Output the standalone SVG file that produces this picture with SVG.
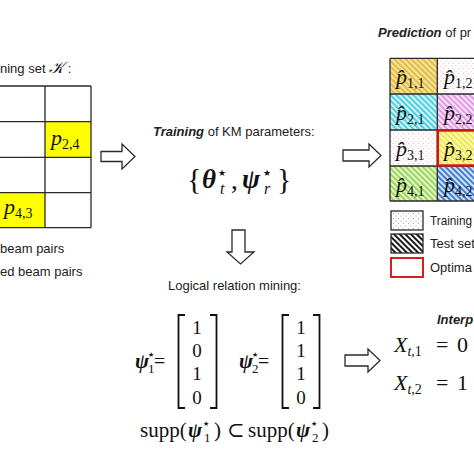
<svg xmlns="http://www.w3.org/2000/svg" width="474" height="474" viewBox="0 0 474 474">
<style>
.sans{font-family:"Liberation Sans","DejaVu Sans",sans-serif;font-size:13px;fill:#222}
.bi{font-weight:bold;font-style:italic}
.m{font-family:"Liberation Serif","DejaVu Serif",serif;fill:#111}
.it{font-style:italic}
.grid{stroke:#2a2a2a;stroke-width:1.3;fill:none}
.arrow{fill:#fff;stroke:#2a2a2a;stroke-width:1.3;stroke-linejoin:miter}
.br{fill:none;stroke:#111;stroke-width:1.8}
.star{font-family:"DejaVu Sans",sans-serif;fill:#111}
</style>
<defs>
<pattern id="hy" width="4" height="4" patternUnits="userSpaceOnUse" patternTransform="rotate(-45)"><rect width="4" height="4" fill="#f7e49a"/><rect width="2" height="4" fill="#e2bd45"/></pattern>
<pattern id="hc" width="4" height="4" patternUnits="userSpaceOnUse" patternTransform="rotate(-45)"><rect width="4" height="4" fill="#d2f3f8"/><rect width="2" height="4" fill="#4fd0e2"/></pattern>
<pattern id="hp" width="4" height="4" patternUnits="userSpaceOnUse" patternTransform="rotate(-45)"><rect width="4" height="4" fill="#f8e2f8"/><rect width="2" height="4" fill="#e29ae6"/></pattern>
<pattern id="hl" width="4" height="4" patternUnits="userSpaceOnUse" patternTransform="rotate(-45)"><rect width="4" height="4" fill="#fbfbb8"/><rect width="2" height="4" fill="#eee84a"/></pattern>
<pattern id="hg" width="4" height="4" patternUnits="userSpaceOnUse" patternTransform="rotate(-45)"><rect width="4" height="4" fill="#e4f6cc"/><rect width="2" height="4" fill="#9cd65a"/></pattern>
<pattern id="hb" width="4" height="4" patternUnits="userSpaceOnUse" patternTransform="rotate(-45)"><rect width="4" height="4" fill="#d4e3f8"/><rect width="2" height="4" fill="#3f7dd6"/></pattern>
<pattern id="hk" width="4" height="4" patternUnits="userSpaceOnUse" patternTransform="rotate(-45)"><rect width="4" height="4" fill="#fff"/><rect width="2" height="4" fill="#1a1a1a"/></pattern>
<pattern id="dp" width="5" height="5" patternUnits="userSpaceOnUse"><rect width="5" height="5" fill="#fff"/><circle cx="1" cy="1" r="0.55" fill="#e2a6c4"/><circle cx="3.5" cy="3.5" r="0.55" fill="#e2a6c4"/></pattern>
<pattern id="dg" width="5" height="5" patternUnits="userSpaceOnUse"><rect width="5" height="5" fill="#fff"/><circle cx="1" cy="1" r="0.55" fill="#999"/><circle cx="3.5" cy="3.5" r="0.55" fill="#999"/></pattern>
</defs>

<g id="training-set">
<text class="sans" x="0" y="73">ning set <tspan class="m it" font-size="16">𝒦</tspan> :</text>
<rect x="45" y="121.7" width="46" height="35.6" fill="#ffff00"/>
<rect x="0" y="192.7" width="45" height="35" fill="#ffff00"/>
<path class="grid" d="M0,86H91M0,121.7H91M0,157.3H91M0,192.7H91M0,227.7H91M45,86V227.7M91,86V227.7"/>
<text class="m it" x="51" y="145" font-size="22">p<tspan font-style="normal" font-size="14" dy="4">2,4</tspan></text>
<text class="m it" x="4" y="214" font-size="22">p<tspan font-style="normal" font-size="14" dy="4">4,3</tspan></text>
<text class="sans" x="0" y="253">beam pairs</text>
<text class="sans" x="0" y="276">ed beam pairs</text>
</g>

<g id="training-km">
<text class="sans" x="153" y="136"><tspan class="bi">Training</tspan> of KM parameters:</text>
<text class="m" x="187" y="189" font-size="30">{</text>
<text class="m bi" x="202" y="188" font-size="27">θ</text>
<text class="star" x="218" y="176" font-size="9">★</text>
<text class="m it" x="220" y="194" font-size="16">t</text>
<text class="m" x="231" y="189" font-size="27">,</text>
<text class="m bi" x="242" y="188" font-size="27">ψ</text>
<text class="star" x="263" y="176" font-size="9">★</text>
<text class="m it" x="264" y="194" font-size="16">r</text>
<text class="m" x="277" y="189" font-size="30">}</text>
</g>

<g id="prediction">
<text class="sans" x="378" y="37"><tspan class="bi">Prediction</tspan> of pr</text>
<rect x="390" y="58.3" width="47.3" height="35.7" fill="url(#hy)"/>
<rect x="437.3" y="58.3" width="47" height="35.7" fill="url(#dp)"/>
<rect x="390" y="94" width="47.3" height="36" fill="url(#hc)"/>
<rect x="437.3" y="94" width="47" height="36" fill="url(#hp)"/>
<rect x="390" y="130" width="47.3" height="36" fill="url(#dp)"/>
<rect x="437.3" y="130" width="47" height="36" fill="url(#hl)"/>
<rect x="390" y="166" width="47.3" height="35" fill="url(#hg)"/>
<rect x="437.3" y="166" width="47" height="35" fill="url(#hb)"/>
<path class="grid" d="M390,58.3H474M390,94H474M390,130H474M390,166H474M390,201H474M390,58.3V201M437.3,58.3V201"/>
<rect x="437.8" y="130.5" width="46" height="35" fill="none" stroke="#d41414" stroke-width="2.4"/>
<text class="m it" x="396" y="84" font-size="22">p̂<tspan font-style="normal" font-size="14" dy="4">1,1</tspan></text>
<text class="m it" x="444" y="84" font-size="22">p̂<tspan font-style="normal" font-size="14" dy="4">1,2</tspan></text>
<text class="m it" x="396" y="120" font-size="22">p̂<tspan font-style="normal" font-size="14" dy="4">2,1</tspan></text>
<text class="m it" x="444" y="120" font-size="22">p̂<tspan font-style="normal" font-size="14" dy="4">2,2</tspan></text>
<text class="m it" x="396" y="156" font-size="22">p̂<tspan font-style="normal" font-size="14" dy="4">3,1</tspan></text>
<text class="m it" x="444" y="156" font-size="22">p̂<tspan font-style="normal" font-size="14" dy="4">3,2</tspan></text>
<text class="m it" x="396" y="192" font-size="22">p̂<tspan font-style="normal" font-size="14" dy="4">4,1</tspan></text>
<text class="m it" x="444" y="192" font-size="22">p̂<tspan font-style="normal" font-size="14" dy="4">4,2</tspan></text>
</g>

<g id="legend">
<rect x="391" y="211" width="32" height="19" fill="url(#dg)" stroke="#2a2a2a" stroke-width="1.3"/>
<rect x="391" y="234" width="32" height="19" fill="url(#hk)" stroke="#2a2a2a" stroke-width="1.3"/>
<rect x="391" y="258" width="32" height="19" fill="#fff" stroke="#d42020" stroke-width="2"/>
<text class="sans" x="430" y="225" textLength="42" lengthAdjust="spacingAndGlyphs">Training</text>
<text class="sans" x="430" y="248">Test set</text>
<text class="sans" x="430" y="272">Optima</text>
</g>

<g id="logical-mining">
<text class="sans" x="168" y="290">Logical relation mining:</text>
<text class="m bi" x="135" y="368" font-size="21">ψ</text>
<text class="star" x="148" y="357" font-size="7">★</text>
<text class="m" x="148" y="373" font-size="13">1</text>
<text class="m" x="154" y="368" font-size="20">=</text>
<path class="br" d="M185,315H178.5V408H185M210,315H216.5V408H210"/>
<text class="m" x="197" y="334" font-size="19" text-anchor="middle">1</text>
<text class="m" x="197" y="357" font-size="19" text-anchor="middle">0</text>
<text class="m" x="197" y="380" font-size="19" text-anchor="middle">1</text>
<text class="m" x="197" y="404" font-size="19" text-anchor="middle">0</text>
<text class="m bi" x="239" y="368" font-size="21">ψ</text>
<text class="star" x="252" y="357" font-size="7">★</text>
<text class="m" x="252" y="373" font-size="13">2</text>
<text class="m" x="258" y="368" font-size="20">=</text>
<path class="br" d="M289,315H282.5V408H289M313,315H319.5V408H313"/>
<text class="m" x="301" y="334" font-size="19" text-anchor="middle">1</text>
<text class="m" x="301" y="357" font-size="19" text-anchor="middle">1</text>
<text class="m" x="301" y="380" font-size="19" text-anchor="middle">1</text>
<text class="m" x="301" y="404" font-size="19" text-anchor="middle">0</text>
<text class="m" x="140" y="437" font-size="21">supp(</text>
<text class="m bi" x="188" y="437" font-size="21">ψ</text>
<text class="star" x="203" y="426" font-size="7">★</text>
<text class="m" x="204" y="442" font-size="13">1</text>
<text class="m" x="214" y="437" font-size="21">)</text>
<text class="m" x="227" y="437" font-size="21">⊂</text>
<text class="m" x="248" y="437" font-size="21">supp(</text>
<text class="m bi" x="296" y="437" font-size="21">ψ</text>
<text class="star" x="311" y="426" font-size="7">★</text>
<text class="m" x="312" y="442" font-size="13">2</text>
<text class="m" x="322" y="437" font-size="21">)</text>
</g>

<g id="interpretation">
<text class="sans bi" x="437" y="324">Interp</text>
<text class="m it" x="394" y="352" font-size="22">X<tspan font-size="14" dy="4">t</tspan><tspan font-style="normal" font-size="14">,1</tspan></text>
<text class="m" x="436" y="352" font-size="22">=</text>
<text class="m" x="457" y="352" font-size="22">0</text>
<text class="m it" x="394" y="390" font-size="22">X<tspan font-size="14" dy="4">t</tspan><tspan font-style="normal" font-size="14">,2</tspan></text>
<text class="m" x="436" y="390" font-size="22">=</text>
<text class="m" x="457" y="390" font-size="22">1</text>
</g>

<g id="connectors">
<polygon class="arrow" points="101,151.5 122,151.5 122,144 135,156.5 122,169 122,161.5 101,161.5"/>
<polygon class="arrow" points="343,150 369,150 369,144 381,155.5 369,167 369,161 343,161"/>
<polygon class="arrow" points="232,230 245,230 245,252 254,252 240.5,264 227,252 232,252"/>
<polygon class="arrow" points="345,355 368,355 368,349 380,360.5 368,372 368,366 345,366"/>
</g>
</svg>
